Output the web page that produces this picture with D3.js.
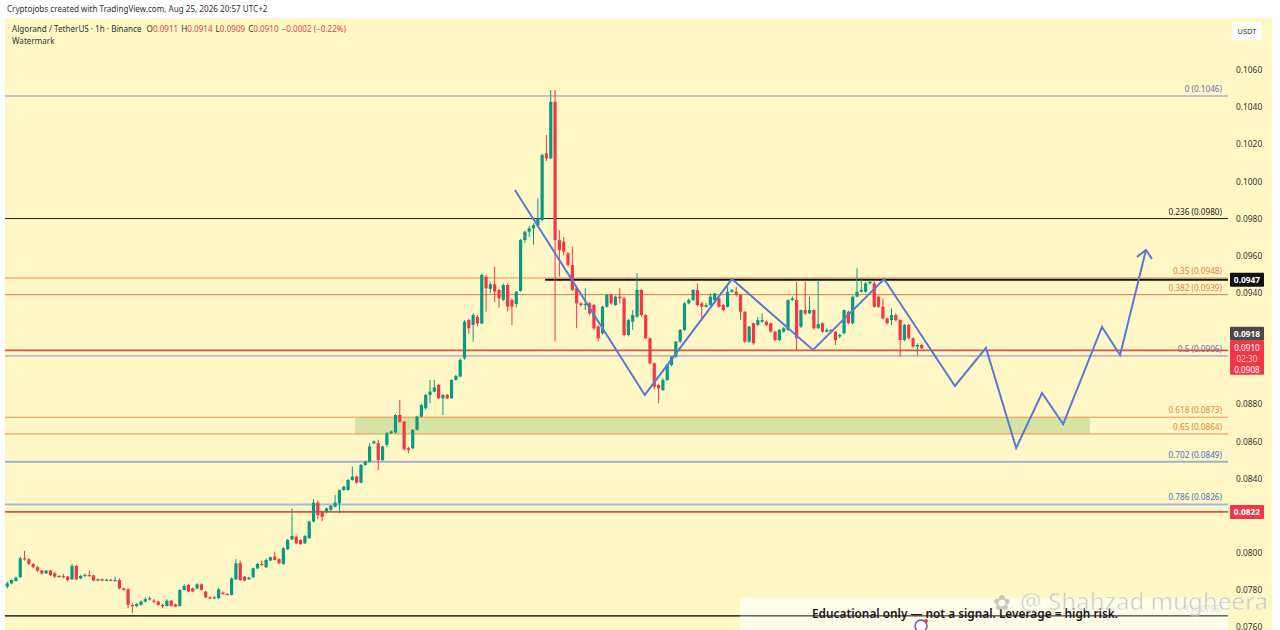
<!DOCTYPE html>
<html><head><meta charset="utf-8">
<script src="https://cdn.jsdelivr.net/npm/d3@7/dist/d3.min.js"></script>
<style>
html,body{margin:0;padding:0;background:#fff;}
svg{display:block;}
text{font-family:"Noto Sans",sans-serif;}
</style></head><body>
<svg id="c" width="1280" height="630"></svg>
<script>
// ---------- DATA ----------
// hourly candles [open, high, low, close] in USDT
const candles = [
[.07817,.07844,.07808,.07835],[.07835,.07857,.07830,.07853],[.07848,.07871,.07844,.07866],[.07868,.07979,.07866,.07970],
[.07970,.08010,.07958,.07965],[.07965,.07970,.07934,.07940],[.07940,.07943,.07916,.07922],[.07922,.07929,.07897,.07904],
[.07904,.07907,.07880,.07889],[.07889,.07907,.07885,.07904],[.07904,.07907,.07875,.07880],[.07889,.07897,.07862,.07871],
[.07871,.07880,.07866,.07875],[.07875,.07885,.07862,.07868],[.07871,.07875,.07846,.07853],[.07857,.07940,.07853,.07929],
[.07929,.07934,.07853,.07857],[.07862,.07880,.07857,.07875],[.07875,.07889,.07871,.07880],[.07880,.07904,.07871,.07878],
[.07878,.07882,.07846,.07850],[.07850,.07862,.07846,.07857],[.07857,.07862,.07846,.07850],[.07850,.07862,.07846,.07855],
[.07855,.07860,.07846,.07850],[.07850,.07871,.07846,.07853],[.07853,.07862,.07803,.07808],[.07808,.07812,.07795,.07800],
[.07803,.07808,.07701,.07719],[.07719,.07728,.07674,.07713],[.07713,.07728,.07706,.07724],[.07719,.07742,.07715,.07737],
[.07737,.07760,.07733,.07750],[.07750,.07764,.07742,.07755],[.07742,.07750,.07728,.07737],[.07737,.07742,.07715,.07719],
[.07719,.07724,.07701,.07712],[.07713,.07750,.07710,.07742],[.07742,.07746,.07710,.07713],[.07722,.07726,.07706,.07710],
[.07713,.07803,.07710,.07800],[.07800,.07830,.07795,.07821],[.07827,.07830,.07787,.07791],[.07808,.07812,.07787,.07791],
[.07808,.07835,.07803,.07830],[.07830,.07835,.07795,.07800],[.07791,.07795,.07755,.07760],[.07760,.07764,.07750,.07755],
[.07755,.07766,.07750,.07760],[.07755,.07808,.07750,.07803],[.07785,.07791,.07773,.07778],[.07778,.07782,.07770,.07775],
[.07773,.07866,.07770,.07862],[.07857,.07965,.07853,.07943],[.07943,.07958,.07848,.07853],[.07871,.07875,.07846,.07850],
[.07857,.07871,.07853,.07866],[.07868,.07920,.07864,.07916],[.07916,.07945,.07912,.07940],[.07940,.07958,.07929,.07934],
[.07922,.07970,.07918,.07961],[.07958,.07979,.07954,.07976],[.07979,.08006,.07958,.07961],[.07965,.07970,.07938,.07943],
[.07940,.08030,.07936,.08024],[.08019,.08074,.08015,.08069],[.08072,.08239,.08069,.08090],[.08087,.08092,.08047,.08051],
[.08069,.08072,.08042,.08047],[.08051,.08095,.08047,.08090],[.08078,.08172,.08074,.08168],[.08168,.08290,.08163,.08270],
[.08270,.08280,.08180,.08203],[.08221,.08226,.08170,.08194],[.08221,.08244,.08212,.08239],[.08230,.08257,.08226,.08252],
[.08248,.08310,.08244,.08270],[.08266,.08340,.08212,.08338],
[.08338,.08360,.08334,.08356],[.08338,.08396,.08334,.08392],[.08392,.08464,.08388,.08410],[.08410,.08415,.08370,.08378],
[.08378,.08478,.08374,.08473],[.08473,.08496,.08468,.08491],[.08491,.08590,.08487,.08572],[.08590,.08605,.08585,.08599],
[.08590,.08608,.08446,.08500],[.08500,.08577,.08495,.08572],[.08581,.08650,.08568,.08644],[.08644,.08660,.08640,.08653],
[.08648,.08746,.08644,.08742],[.08742,.08823,.08700,.08706],[.08706,.08710,.08550,.08558],[.08563,.08570,.08536,.08554],
[.08563,.08666,.08558,.08662],[.08662,.08738,.08658,.08733],[.08733,.08800,.08730,.08796],[.08778,.08855,.08770,.08850],
[.08850,.08931,.08805,.08868],[.08868,.08931,.08864,.08890],[.08904,.08910,.08828,.08832],[.08832,.08855,.08742,.08850],
[.08850,.08855,.08828,.08832],[.08832,.08935,.08828,.08931],[.08931,.08958,.08926,.08952],[.08949,.09047,.08945,.09038],
[.09047,.09253,.09040,.09244],[.09253,.09260,.09180,.09209],[.09227,.09290,.09137,.09280],[.09271,.09280,.09220,.09235],
[.09235,.09505,.09230,.09496],[.09487,.09496,.09298,.09424],[.09421,.09460,.09400,.09446],[.09446,.09541,.09350,.09406],
[.09415,.09420,.09320,.09370],[.09361,.09450,.09355,.09442],[.09442,.09450,.09300,.09326],[.09361,.09370,.09227,.09326],
[.09340,.09410,.09320,.09406],[.09410,.09690,.09405,.09684],[.09684,.09735,.09670,.09729],[.09729,.09760,.09700,.09747],
[.09747,.09775,.09660,.09765],[.09765,.09909,.09760,.09801],[.09792,.10150,.09785,.10142],[.10151,.10250,.10110,.10124],
[.10124,.10492,.10120,.10429],[.10429,.10492,.09137,.09684],
[.09684,.09738,.09487,.09630],[.09675,.09700,.09600,.09622],[.09612,.09620,.09540,.09550],[.09550,.09648,.09410,.09415],
[.09424,.09430,.09209,.09343],[.09343,.09350,.09325,.09334],[.09334,.09424,.09307,.09340],[.09343,.09350,.09280,.09289],
[.09334,.09340,.09200,.09209],[.09218,.09225,.09140,.09155],[.09182,.09330,.09175,.09325],[.09325,.09395,.09320,.09388],
[.09388,.09395,.09335,.09343],[.09334,.09385,.09330,.09379],[.09379,.09424,.09343,.09370],[.09370,.09380,.09165,.09173],
[.09173,.09260,.09165,.09253],
[.09244,.09307,.09200,.09280],[.09271,.09505,.09265,.09415],[.09415,.09420,.09270,.09280],[.09280,.09285,.09150,.09155],
[.09155,.09160,.09015,.09020],[.09020,.09025,.08880,.08894],[.08903,.08910,.08805,.08885],[.08876,.08940,.08870,.08930],
[.08930,.09015,.08925,.09011],[.09011,.09060,.09005,.09056],[.09056,.09140,.09050,.09137],[.09137,.09205,.09130,.09200],
[.09200,.09350,.09195,.09343],[.09343,.09370,.09338,.09361],[.09361,.09420,.09355,.09415],[.09415,.09451,.09325,.09334],
[.09343,.09350,.09250,.09325],[.09325,.09345,.09320,.09334],[.09334,.09397,.09330,.09379],[.09361,.09400,.09355,.09397],
[.09370,.09375,.09320,.09325],[.09334,.09340,.09300,.09307],[.09325,.09433,.09320,.09406],[.09406,.09420,.09400,.09415],
[.09406,.09433,.09379,.09388],[.09388,.09392,.09253,.09298],[.09298,.09300,.09130,.09137],[.09137,.09222,.09130,.09218],
[.09236,.09240,.09120,.09128],[.09227,.09270,.09220,.09253],[.09244,.09290,.09240,.09253],[.09244,.09250,.09220,.09227],
[.09236,.09240,.09185,.09191],[.09191,.09195,.09140,.09146],[.09146,.09205,.09140,.09200],[.09191,.09215,.09185,.09209],
[.09200,.09365,.09195,.09361],[.09361,.09380,.09355,.09370],[.09361,.09460,.09092,.09155],[.09218,.09310,.09210,.09307],
[.09307,.09460,.09280,.09289],[.09289,.09379,.09285,.09307],[.09307,.09310,.09200,.09209],[.09209,.09470,.09205,.09232],
[.09236,.09240,.09185,.09191],[.09191,.09210,.09185,.09200],[.09200,.09205,.09185,.09191],[.09191,.09195,.09119,.09146],
[.09164,.09180,.09155,.09173],[.09182,.09310,.09175,.09307],[.09298,.09305,.09230,.09236],[.09236,.09385,.09230,.09379],
[.09379,.09532,.09375,.09406],[.09406,.09478,.09400,.09415],[.09406,.09460,.09400,.09451],[.09451,.09470,.09445,.09460],
[.09451,.09470,.09320,.09325],[.09379,.09385,.09318,.09325],[.09325,.09370,.09255,.09262],[.09262,.09265,.09230,.09236],
[.09253,.09316,.09227,.09280],[.09280,.09290,.09245,.09253],[.09253,.09258,.09056,.09146],[.09146,.09232,.09140,.09227],
[.09227,.09232,.09150,.09155],[.09155,.09160,.09105,.09110],[.09110,.09128,.09065,.09119],[.09119,.09125,.09095,.09101]
];
const axisTicks = [0.1060,0.1040,0.1020,0.1000,0.0980,0.0960,0.0940,0.0880,0.0860,0.0840,0.0800,0.0780,0.0760];
const fibRatios = ["0","0.236","0.35","0.382","0.5","0.618","0.65","0.702","0.786","1"];
const fibPrices = [0.1046,0.0980,0.0948,0.0939,0.0906,0.0873,0.0864,0.0849,0.0826,0.0766];
// projected zig-zag path: bar index (future bars beyond last candle) and price
const pathBars   = [117.7,147.8,168.0,186.8,203.3,219.7,226.9,233.9,239.9,244.8,253.8,258.0,264.0];
const pathPrices = [0.09954,0.08850,0.09474,0.09092,0.09474,0.08898,0.09103,0.08564,0.08860,0.08693,0.09216,0.09065,0.09631];
const zoneBars = [80.6, 251.0];
const zonePrices = [0.0873, 0.0864];
const resistancePrice = 0.0947, resistanceStartBar = 124.7;
const redLinePrices = [0.0909, 0.0822];
const priceTagTexts = ["0.0947","0.0918","0.0822"];
const priceTagValues = [0.0947,0.0918,0.0822];
const lastTagLines = ["0.0910","02:30","0.0908"];
const ohlc = {O:"0.0911",H:"0.0914",L:"0.0909",C:"0.0910",chg:"\u22120.0002 (\u22120.22%)"};

// ---------- STYLE ----------
const UP="#089981", DOWN="#F23645", BG="#FFF8C6";
const fibLineColors = ["#9393C4","#222222","#F0924A","#CF7A45","#7D8BC9","#EE9150","#E89050","#9DB0D6","#A6B8DA","#222222"];
const fibLineWidths = [1,1,1,1,1,1,1,2,2,1];
const fibTextColors = ["#6E6EA8","#222222","#E0843A","#E0843A","#5C6FB5","#E0843A","#E0843A","#4C71C4","#4C71C4","#222222"];

const svg = d3.select("#c");
const W=1280, H=630, plotL=5, plotR=1228;
const x = d3.scaleLinear().domain([0, candles.length-1]).range([7.3, 921.7]);
const y = d3.scaleLinear().domain([0.0760, 0.1060]).range([627, 70]);

// header
svg.append("rect").attr("x",0).attr("y",0).attr("width",W).attr("height",H).attr("fill","#fff");
svg.append("rect").attr("x",plotL).attr("y",18).attr("width",1267).attr("height",H-18).attr("fill",BG);
svg.append("text").attr("x",7).attr("y",12).attr("font-size",8.1).attr("fill","#333")
  .text("Cryptojobs created with TradingView.com, Aug 25, 2026 20:57 UTC+2");
const lg = svg.append("text").attr("x",12).attr("y",32).attr("font-size",8.1).attr("fill","#333");
lg.append("tspan").text("Algorand / TetherUS \u00b7 1h \u00b7 Binance ");
["O","H","L","C"].forEach(k=>{
  lg.append("tspan").attr("dx",3).text(k);
  lg.append("tspan").attr("fill","#E0453F").text(ohlc[k]);
});
lg.append("tspan").attr("dx",3).attr("fill","#E0453F").text(ohlc.chg);
svg.append("text").attr("x",12).attr("y",44).attr("font-size",8.1).attr("fill","#333").text("Watermark");

// USDT box
svg.append("rect").attr("x",1232).attr("y",22).attr("width",30).attr("height",18).attr("fill","#fff");
svg.append("text").attr("x",1247).attr("y",34).attr("text-anchor","middle").attr("font-size",7.5).attr("fill","#333").text("USDT");

const plot = svg.append("g");
// zone
plot.append("rect").attr("x",x(zoneBars[0])).attr("width",x(zoneBars[1])-x(zoneBars[0]))
  .attr("y",y(zonePrices[0])).attr("height",y(zonePrices[1])-y(zonePrices[0])).attr("fill","#D7E3A3");

// fib lines
fibPrices.forEach((p,i)=>{
  plot.append("line").attr("x1",plotL).attr("x2",plotR).attr("y1",y(p)).attr("y2",y(p))
    .attr("stroke",fibLineColors[i]).attr("stroke-width",fibLineWidths[i]);
  plot.append("text").attr("x",1222).attr("y",y(p)-4).attr("text-anchor","end").attr("font-size",8.2)
    .attr("fill",fibTextColors[i]).text(`${fibRatios[i]} (${p.toFixed(4)})`);
});
// red horizontal lines
redLinePrices.forEach(p=>{
  plot.append("line").attr("x1",plotL).attr("x2",plotR).attr("y1",y(p)).attr("y2",y(p))
    .attr("stroke","#D9534A").attr("stroke-width",1.6);
});
// resistance line
plot.append("line").attr("x1",x(resistanceStartBar)).attr("x2",plotR).attr("y1",y(resistancePrice)).attr("y2",y(resistancePrice))
  .attr("stroke","#111").attr("stroke-width",2);

// candles
const cg = plot.append("g");
candles.forEach((d,i)=>{
  const [o,h,l,c]=d; const col = c>=o?UP:DOWN; const cx=x(i);
  cg.append("line").attr("x1",cx).attr("x2",cx).attr("y1",y(h)).attr("y2",y(l)).attr("stroke",col).attr("stroke-width",1);
  const top=y(Math.max(o,c)), bh=Math.max(1.2,Math.abs(y(o)-y(c)));
  cg.append("rect").attr("x",cx-1.6).attr("width",3.2).attr("y",top).attr("height",bh).attr("fill",col);
});

// zigzag projection
const pts = pathBars.map((b,i)=>[x(b),y(pathPrices[i])]);
plot.append("path").attr("d",d3.line()(pts)).attr("fill","none").attr("stroke","#5A78D8").attr("stroke-width",2).attr("stroke-linejoin","miter");
const tip = pts[pts.length-1];
plot.append("path").attr("d",d3.line()([[tip[0]-9,tip[1]+7],tip,[tip[0]+6,tip[1]+9]]))
  .attr("fill","none").attr("stroke","#5A78D8").attr("stroke-width",2);

// right axis
const ax = svg.append("g").attr("transform","translate(1236,0)")
  .call(d3.axisRight(y).tickValues(axisTicks).tickSize(0).tickPadding(0).tickFormat(d3.format(".4f")));
ax.select(".domain").remove();
ax.selectAll("text").attr("font-size",8.4).attr("fill","#333").attr("font-family","Noto Sans");

// price tags
const tagFill = ["#111","#4a4a4a","#F23645"];
priceTagValues.forEach((p,i)=>{
  svg.append("rect").attr("x",1230).attr("y",y(p)-7).attr("width",34).attr("height",14).attr("rx",1).attr("fill",tagFill[i]);
  svg.append("text").attr("x",1247).attr("y",y(p)+3).attr("text-anchor","middle").attr("font-size",8.4)
    .attr("font-weight","bold").attr("fill","#fff").text(priceTagTexts[i]);
});
svg.append("rect").attr("x",1230).attr("y",y(0.0918)+7).attr("width",34).attr("height",34).attr("rx",1).attr("fill","#F23645");
lastTagLines.forEach((t,i)=>{
  svg.append("text").attr("x",1247).attr("y",y(0.0918)+17+i*11).attr("text-anchor","middle").attr("font-size",8.2)
    .attr("fill", i===1?"#FFD3D6":"#fff").text(t);
});

// bottom caption band + watermark
svg.append("rect").attr("x",740).attr("y",598).attr("width",488).attr("height",32).attr("fill","#FFFDF0").attr("opacity",0.85);
svg.append("line").attr("x1",plotL).attr("x2",plotR).attr("y1",y(0.0766)).attr("y2",y(0.0766)).attr("stroke","#222").attr("stroke-width",1);
svg.append("text").attr("x",812).attr("y",618).attr("font-size",13).attr("font-weight","600").attr("fill","#1a1a1a")
  .attr("textLength",306).attr("lengthAdjust","spacingAndGlyphs")
  .text("Educational only \u2014 not a signal. Leverage = high risk.");
svg.append("text").attr("x",993).attr("y",610).attr("font-size",21).attr("fill","#9a9a9a").attr("opacity",0.55)
  .attr("font-family","DejaVu Sans").text("\u273F");
svg.append("text").attr("x",1020).attr("y",610).attr("font-size",24).attr("fill","#9a9a9a").attr("opacity",0.55)
  .attr("stroke","#fff").attr("stroke-width",0.6)
  .attr("textLength",248).attr("lengthAdjust","spacingAndGlyphs").text("@ Shahzad mugheera");
svg.append("circle").attr("cx",921).attr("cy",626).attr("r",6).attr("fill","#fff").attr("stroke","#6A52D0").attr("stroke-width",1.5);
svg.append("circle").attr("cx",926).attr("cy",621).attr("r",2).attr("fill","#F23645");
</script>
</body></html>
